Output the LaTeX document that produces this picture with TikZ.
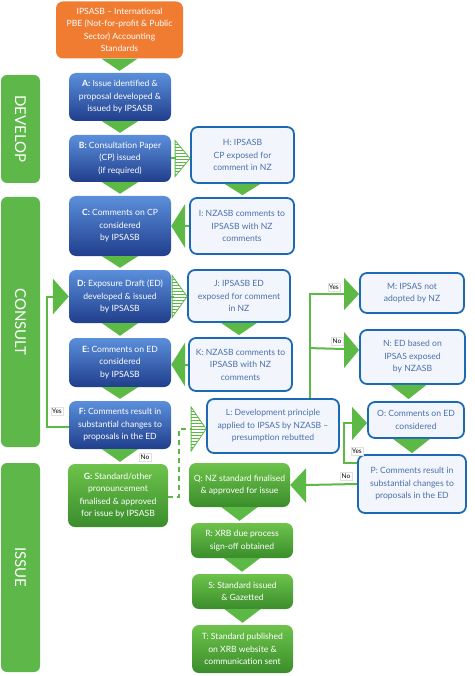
\documentclass[tikz,border=0pt]{standalone}
\usepackage{fontspec}
\setmainfont{Lato}
\usetikzlibrary{calc,patterns}
\definecolor{blueT}{HTML}{5B8FDB}
\definecolor{blueB}{HTML}{203E8C}
\definecolor{greenT}{HTML}{6DC34B}
\definecolor{greenB}{HTML}{3A8D2B}
\definecolor{orangeC}{HTML}{F07C32}
\definecolor{panelG}{HTML}{5DB849}
\definecolor{triG}{HTML}{5CB946}
\definecolor{outB}{HTML}{1B6AB3}
\definecolor{outF}{HTML}{F2F6FC}
\definecolor{outT}{HTML}{4B6FAE}
\tikzset{
  boxtxt/.style={align=center, inner sep=0pt, font=\fontsize{8.6pt}{12.5pt}\selectfont},
  bluebox/.style={boxtxt, rounded corners=7pt, top color=blueT, bottom color=blueB, text=white},
  greenbox/.style={boxtxt, rounded corners=7pt, top color=greenT, bottom color=greenB, text=white},
  orangebox/.style={boxtxt, rounded corners=7pt, fill=orangeC, text=white},
  outbox/.style={boxtxt, rounded corners=7pt, draw=outB, line width=1.8pt, fill=outF, text=outT},
  panel/.style={fill=panelG, rounded corners=6pt, text=white, inner sep=0pt, font=\fontsize{15pt}{15pt}\selectfont},
  tri/.style={fill=triG},
  hatch/.style={draw=triG, line width=0.8pt, pattern=horizontal lines, pattern color=triG},
  conn/.style={draw=triG, line width=2pt},
  dconn/.style={draw=triG, line width=2pt, dash pattern=on 5pt off 4pt},
  lab/.style={fill=white, draw=black!12, line width=0.4pt, inner sep=1.5pt, text=black, font=\fontsize{6.5pt}{7pt}\selectfont}
}
\newcommand{\dtri}[2]{\fill[tri] ($(#1.south)+(-18,0)$) -- ($(#1.south)+(18,0)$) -- ($(#1.south |- #2.north)+(0,-2)$) -- cycle;}
\begin{document}
\begin{tikzpicture}[x=1pt,y=-1pt]
\useasboundingbox (0,0) rectangle (474,676);
% side panels
\node[panel, rotate=-90, minimum width=108pt, minimum height=39pt] (dev) at (20.5,129) {DEVELOP};
\node[panel, rotate=-90, minimum width=250pt, minimum height=39pt] (con) at (20.5,322) {CONSULT};
\node[panel, rotate=-90, minimum width=209pt, minimum height=39pt] (iss) at (20.5,567.5) {ISSUE};
% left column
\node[orangebox, minimum width=127pt, minimum height=57pt] (top) at (119.5,30) {IPSASB -- International\\PBE (Not-for-profit \& Public\\Sector) Accounting\\Standards};
\node[bluebox, minimum width=102pt, minimum height=48pt] (A) at (120,97) {\textbf{A:} Issue identified \&\\proposal developed \&\\issued by IPSASB};
\node[bluebox, minimum width=102pt, minimum height=47pt] (B) at (120,158.5) {\textbf{B:} Consultation Paper\\(CP) issued\\(if required)};
\node[bluebox, minimum width=102pt, minimum height=60pt] (C) at (120,226) {\textbf{C:} Comments on CP\\considered\\by IPSASB};
\node[bluebox, minimum width=102pt, minimum height=53pt] (D) at (120,296.5) {\textbf{D:} Exposure Draft (ED)\\developed \& issued\\by IPSASB};
\node[bluebox, minimum width=102pt, minimum height=49pt] (E) at (120,362.5) {\textbf{E:} Comments on ED\\considered\\by IPSASB};
\node[bluebox, minimum width=102pt, minimum height=48pt] (F) at (120,425) {\textbf{F:} Comments result in\\substantial changes to\\proposals in the ED};
\node[greenbox, minimum width=100pt, minimum height=63pt] (G) at (118,495.5) {\textbf{G:} Standard/other\\pronouncement\\finalised \& approved\\for issue by IPSASB};
% middle column
\node[outbox, minimum width=103pt, minimum height=56pt] (H) at (242.5,155) {H: IPSASB\\CP exposed for\\comment in NZ};
\node[outbox, minimum width=104pt, minimum height=56pt] (I) at (242,226) {I: NZASB comments to\\IPSASB with NZ\\comments};
\node[outbox, minimum width=102pt, minimum height=52pt] (J) at (239,296) {J: IPSASB ED\\exposed for comment\\in NZ};
\node[outbox, minimum width=103pt, minimum height=53pt] (K) at (240.5,364.5) {K: NZASB comments to\\IPSASB with NZ\\comments};
\node[outbox, minimum width=132pt, minimum height=54pt] (L) at (273,426) {L: Development principle\\applied to IPSAS by NZASB --\\presumption rebutted};
\node[greenbox, minimum width=101pt, minimum height=44pt] (Q) at (239.5,485) {Q: NZ standard finalised\\\& approved for issue};
\node[greenbox, minimum width=102pt, minimum height=35pt] (R) at (242,540.5) {R: XRB due process\\sign-off obtained};
\node[greenbox, minimum width=101pt, minimum height=35pt] (S) at (242.5,591.5) {S: Standard issued\\\& Gazetted};
\node[greenbox, minimum width=101pt, minimum height=48pt] (T) at (242.5,649) {T: Standard published\\on XRB website \&\\communication sent};
% right column
\node[outbox, minimum width=104pt, minimum height=40pt] (M) at (412,293) {M: IPSAS not\\adopted by NZ};
\node[outbox, minimum width=105pt, minimum height=54pt] (N) at (412.5,357) {N: ED based on\\IPSAS exposed\\by NZASB};
\node[outbox, minimum width=96pt, minimum height=36pt] (O) at (416,420) {O: Comments on ED\\considered};
\node[outbox, minimum width=108pt, minimum height=58pt] (P) at (412,484) {P: Comments result in\\substantial changes to\\proposals in the ED};
% vertical flow triangles
\dtri{top}{A}
\dtri{A}{B}
\dtri{B}{C}
\dtri{C}{D}
\dtri{D}{E}
\dtri{E}{F}
\dtri{F}{G}
\dtri{H}{I}
\dtri{J}{K}
\dtri{Q}{R}
\dtri{R}{S}
\dtri{S}{T}
\fill[tri] ($(N.south)+(-22,0)$) -- ($(N.south)+(14,0)$) -- ($(N.south |- O.north)+(-4,-2)$) -- cycle;
\fill[tri] ($(O.south)+(-23,0)$) -- ($(O.south)+(14,0)$) -- ($(O.south |- P.north)+(-4,-1)$) -- cycle;
% B -> H hatched
\draw[conn] (B.east) -- ++(5,0);
\filldraw[hatch] ($(H.west |- B.east)+(-15,-18)$) -- ($(H.west |- B.east)+(-15,18)$) -- (H.west |- B.east) -- cycle;
% D -> J hatched
\draw[conn] (D.east) -- ++(3,0);
\filldraw[hatch] ($(J.west |- D.east)+(-15,-21)$) -- ($(J.west |- D.east)+(-15,21)$) -- (J.west |- D.east) -- cycle;
% I -> C
\draw[conn] (I.west) -- ++(-5,0);
\fill[tri] ($(I.west)+(-4,-22)$) -- ($(I.west)+(-4,22)$) -- (C.east |- I.west) -- cycle;
% K -> E
\draw[conn] (K.west) -- ++(-5,0);
\fill[tri] ($(K.west)+(-3,-22)$) -- ($(K.west)+(-3,22)$) -- (E.east |- K.west) -- cycle;
% F -> D loop (Yes)
\draw[conn] ($(F.west)+(0,2)$) -- ++(-22,0) |- ($(D.west)+(-15,0)$);
\fill[tri] ($(D.west)+(-16,-18)$) -- ($(D.west)+(-16,18)$) -- (D.west) -- cycle;
\node[lab] (yesF) at (57,411) {Yes};
\node[lab] (noF) at (145,457) {No};
% G -> L dashed
\draw[dconn] ($(G.east)+(0,1.5)$) -- ++(11,0) |- ($(L.west)+(-14,3)$);
\filldraw[hatch] ($(L.west)+(-15,-19)$) -- ($(L.west)+(-15,25)$) -- ($(L.west)+(0,3)$) -- cycle;
% L -> M / N
\coordinate (Lb) at ($(L.north)+(37,0)$);
\draw[conn] (Lb) |- ($(M.west)+(-15,1)$);
\draw[conn] ($(Lb)+(0,-50)$) -- ($(N.west)+(-15,-8)$);
\fill[tri] ($(M.west)+(-15,-15)$) -- ($(M.west)+(-15,17)$) -- ($(M.west)+(0,1)$) -- cycle;
\fill[tri] ($(N.west)+(-15,-25)$) -- ($(N.west)+(-15,11)$) -- ($(N.west)+(0,-7)$) -- cycle;
\node[lab] (yesM) at (334,287) {Yes};
\node[lab] (noN) at (337,341) {No};
% P -> O loop (Yes)
\draw[conn] ($(P.west)+(0,-21)$) -- ++(-13,0) |- ($(O.west)+(-15,3)$);
\fill[tri] ($(O.west)+(-15,-13)$) -- ($(O.west)+(-15,20)$) -- ($(O.west)+(0,3)$) -- cycle;
\node[lab] (yesP) at (357,451) {Yes};
% P -> Q (No)
\draw[conn] (P.west) -- ($(Q.east)+(16,0)$);
\fill[tri] ($(Q.east)+(16,-17)$) -- ($(Q.east)+(16,18)$) -- (Q.east) -- cycle;
\node[lab] (noP) at (346,476) {No};
\end{tikzpicture}
\end{document}
